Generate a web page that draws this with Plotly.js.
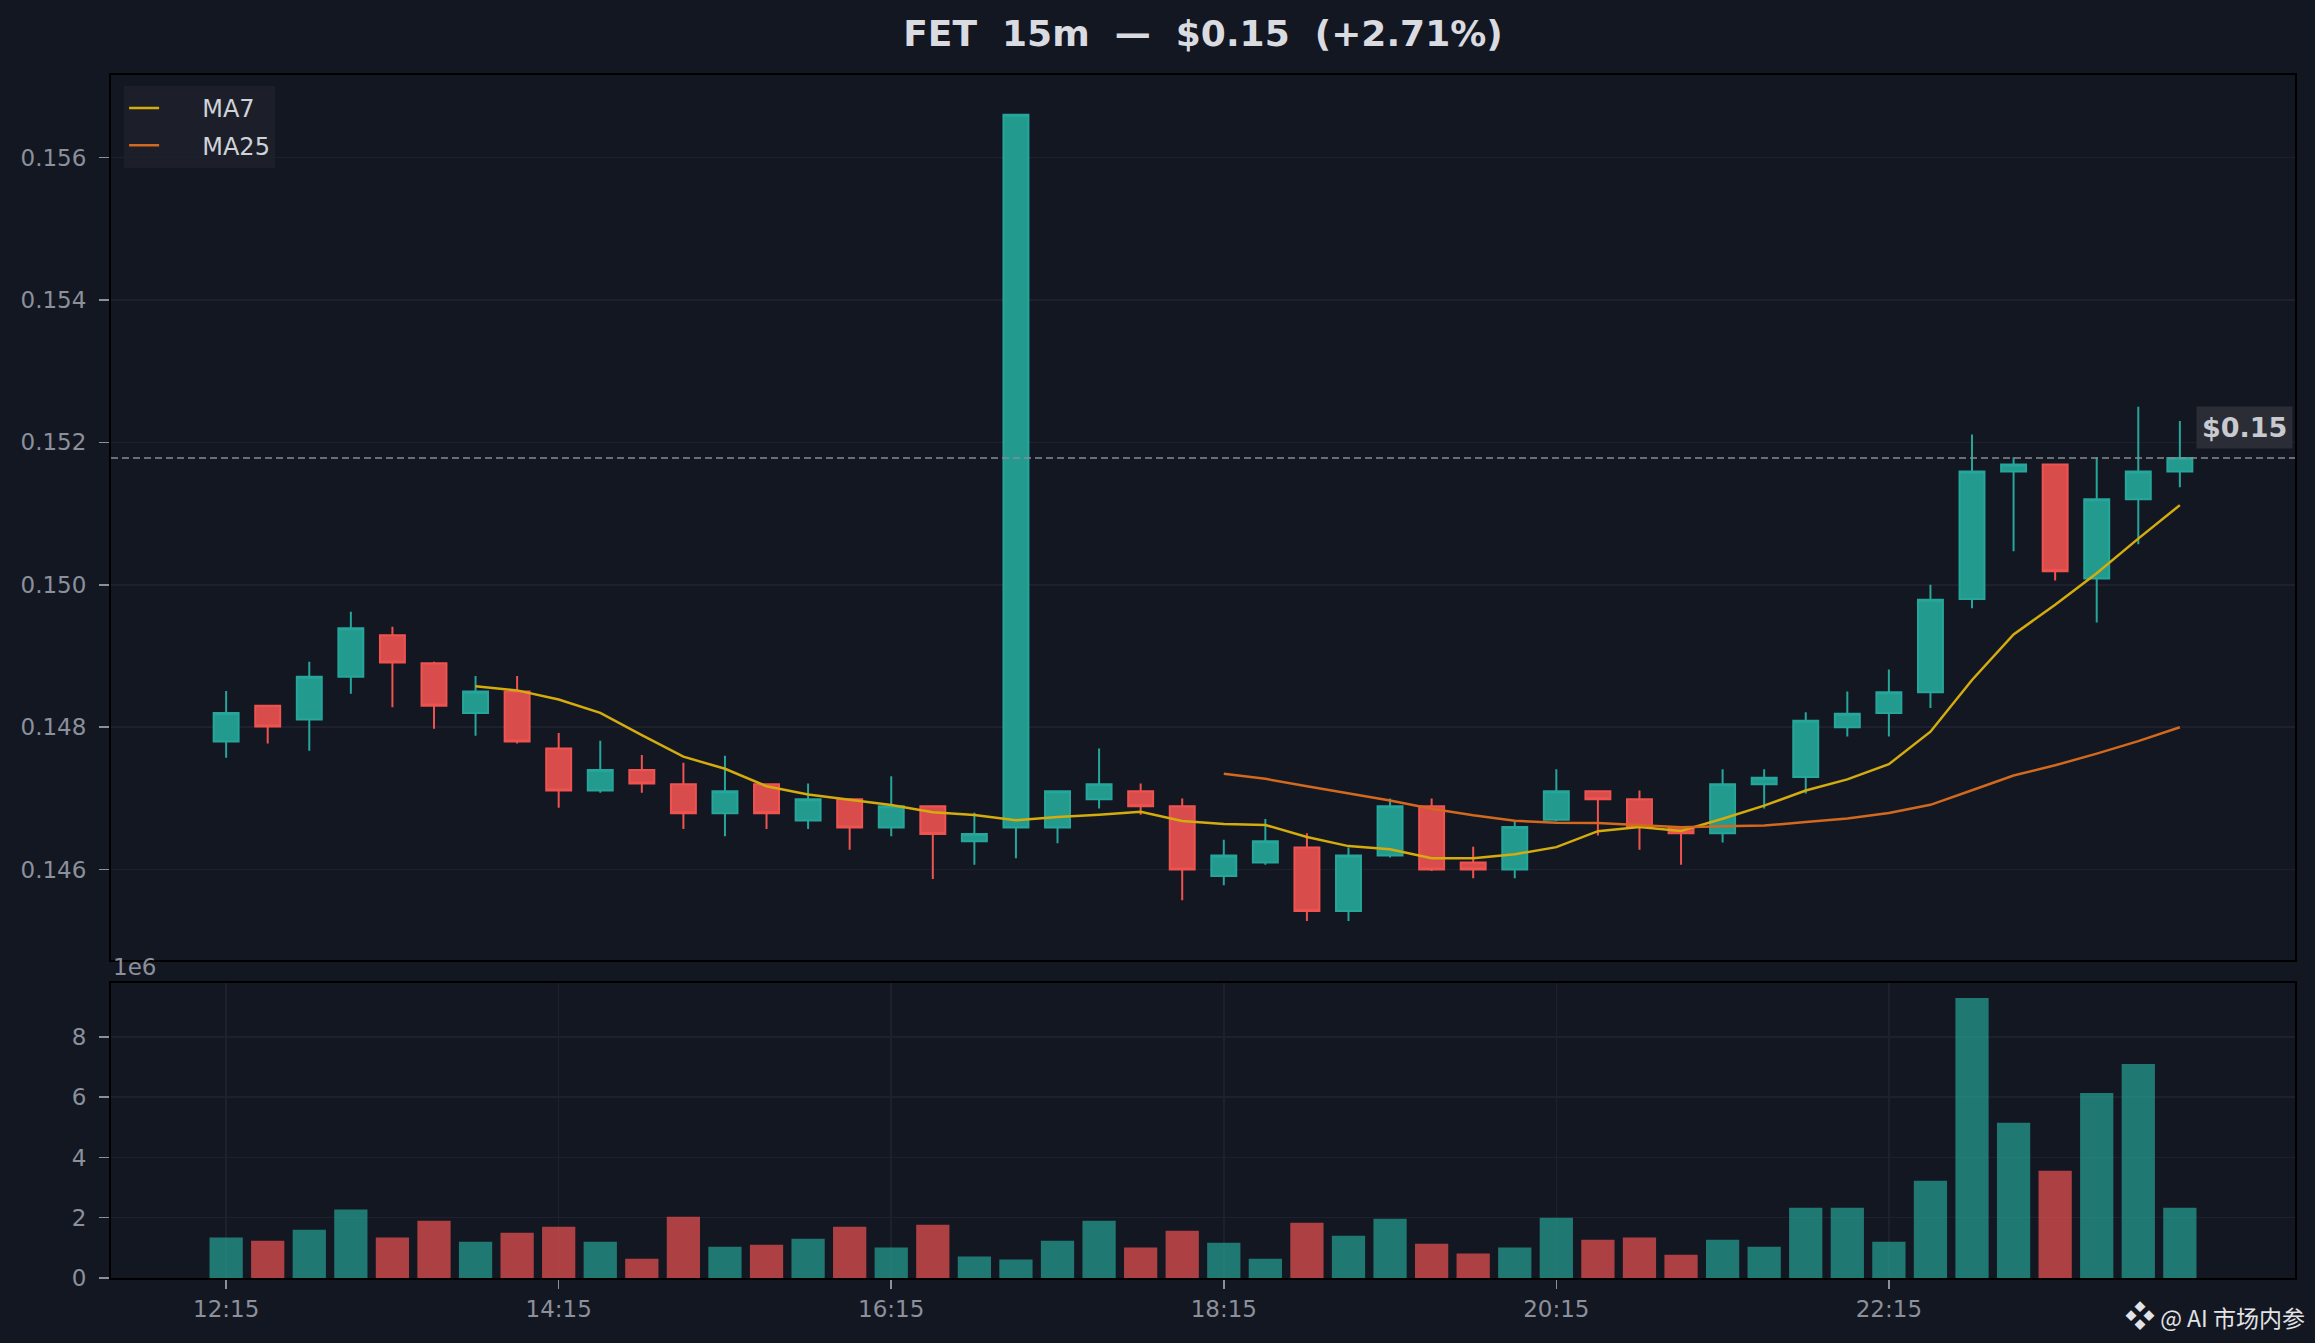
<!DOCTYPE html>
<html>
<head>
<meta charset="utf-8">
<script src="https://cdn.plot.ly/plotly-3.0.1.min.js"></script>
<style>
  html, body { margin: 0; padding: 0; background: #131722; }
  #chart { width: 2315px; height: 1343px; }
</style>
</head>
<body>
<div id="chart"></div>
<script>
// ---- Data ----
const times = ['12:15','12:30','12:45','13:00','13:15','13:30','13:45','14:00','14:15','14:30','14:45','15:00',
               '15:15','15:30','15:45','16:00','16:15','16:30','16:45','17:00','17:15','17:30','17:45','18:00',
               '18:15','18:30','18:45','19:00','19:15','19:30','19:45','20:00','20:15','20:30','20:45','21:00',
               '21:15','21:30','21:45','22:00','22:15','22:30','22:45','23:00','23:15','23:30','23:45','00:00'];

const opens = [0.14780,0.14830,0.14811,0.14871,0.14929,0.14890,0.14820,0.14850,0.14770,0.14711,0.14740,0.14720,
               0.14679,0.14720,0.14669,0.14699,0.14659,0.14689,0.14640,0.14659,0.14659,0.14699,0.14710,0.14689,
               0.14591,0.14610,0.14631,0.14542,0.14620,0.14689,0.14610,0.14600,0.14670,0.14710,0.14699,0.14660,
               0.14651,0.14720,0.14730,0.14800,0.14820,0.14849,0.14980,0.15159,0.15169,0.15009,0.15120,0.15159];
const highs = [0.14851,0.14831,0.14892,0.14962,0.14941,0.14892,0.14872,0.14872,0.14792,0.14781,0.14761,0.14750,
               0.14760,0.14721,0.14721,0.14699,0.14731,0.14690,0.14680,0.15660,0.14711,0.14770,0.14721,0.14700,
               0.14642,0.14671,0.14651,0.14631,0.14700,0.14700,0.14632,0.14669,0.14741,0.14711,0.14711,0.14660,
               0.14741,0.14741,0.14821,0.14850,0.14881,0.15000,0.15211,0.15179,0.15170,0.15179,0.15250,0.15230];
const lows  = [0.14757,0.14777,0.14767,0.14847,0.14828,0.14798,0.14788,0.14777,0.14687,0.14708,0.14708,0.14657,
               0.14647,0.14657,0.14657,0.14628,0.14647,0.14587,0.14607,0.14616,0.14637,0.14686,0.14677,0.14557,
               0.14578,0.14607,0.14528,0.14528,0.14617,0.14598,0.14588,0.14588,0.14668,0.14648,0.14628,0.14607,
               0.14638,0.14686,0.14707,0.14787,0.14787,0.14827,0.14967,0.15047,0.15006,0.14947,0.15057,0.15137];
const closes = [0.14820,0.14801,0.14871,0.14939,0.14891,0.14830,0.14850,0.14780,0.14711,0.14740,0.14721,0.14679,
                0.14710,0.14679,0.14699,0.14659,0.14689,0.14650,0.14650,0.15660,0.14710,0.14720,0.14689,0.14600,
                0.14620,0.14640,0.14542,0.14620,0.14689,0.14600,0.14600,0.14660,0.14710,0.14699,0.14660,0.14651,
                0.14720,0.14729,0.14809,0.14819,0.14849,0.14979,0.15159,0.15169,0.15019,0.15120,0.15159,0.15178];

// Volume (units)
const volumes = [1340000,1240000,1600000,2270000,1340000,1900000,1200000,1500000,1700000,1200000,640000,2030000,
                 1040000,1100000,1300000,1700000,1010000,1770000,710000,610000,1240000,1900000,1010000,1570000,
                 1170000,640000,1830000,1400000,1970000,1140000,810000,1010000,2000000,1270000,1340000,770000,
                 1270000,1040000,2330000,2330000,1200000,3230000,9290000,5150000,3560000,6140000,7100000,2330000];

// Moving averages as drawn in the picture
const ma7 = [null,null,null,null,null,null,
             0.148574,0.148517,0.148389,0.148201,0.147890,0.147587,0.147416,0.147171,0.147056,0.146981,
             0.146909,0.146807,0.146766,0.146694,0.146739,0.146769,0.146811,0.146684,0.146641,0.146627,
             0.146459,0.146330,0.146286,0.146159,0.146159,0.146216,0.146316,0.146540,0.146597,0.146543,
             0.146714,0.146899,0.147111,0.147267,0.147481,0.147937,0.148663,0.149304,0.149719,0.150163,
             0.150649,0.151119];
const ma25 = [null,null,null,null,null,null,null,null,null,null,null,null,
              null,null,null,null,null,null,null,null,null,null,null,null,
              0.147347,0.147275,0.147172,0.147071,0.146971,0.146855,0.146763,0.146687,0.146659,0.146654,
              0.146622,0.146594,0.146610,0.146618,0.146670,0.146718,0.146794,0.146910,0.147114,0.147321,
              0.147465,0.147629,0.147804,0.148000];

const lastPrice = 0.15178;
const titleText = 'FET\u00a0\u00a015m\u00a0\u00a0—\u00a0\u00a0$0.15\u00a0\u00a0(+2.71%)';
const priceTicks = [0.146, 0.148, 0.150, 0.152, 0.154, 0.156];
const volTickVals = [0, 2000000, 4000000, 6000000, 8000000];
const volTickText = ['0', '2', '4', '6', '8'];
const timeTickVals = ['12:15', '14:15', '16:15', '18:15', '20:15', '22:15'];

// ---- Build ----
const toDate = t => (t < '12:00' ? '2024-01-02 ' : '2024-01-01 ') + t;
const xs = times.map(toDate);

const UP = '#26a69a', DOWN = '#ef5350';
const volColors = closes.map((c, i) => c >= opens[i] ? 'rgba(38,166,154,0.68)' : 'rgba(239,83,80,0.70)');

const FONT = 'DejaVu Sans, sans-serif';
const TICKC = '#8c909b';
const GRID = '#1e212d';
const PAD = '\u00a0\u00a0\u00a0\u00a0\u00a0';

const traces = [
  {
    type: 'candlestick', x: xs, open: opens, high: highs, low: lows, close: closes,
    xaxis: 'x', yaxis: 'y', showlegend: false, hoverinfo: 'skip', whiskerwidth: 0,
    increasing: { line: { color: UP, width: 2 }, fillcolor: '#229a8e' },
    decreasing: { line: { color: DOWN, width: 2 }, fillcolor: '#d94c4c' }
  },
  {
    type: 'scatter', mode: 'lines', x: xs, y: ma7, name: PAD + 'MA7', legendgroup: 'a',
    xaxis: 'x', yaxis: 'y', line: { color: '#d4ac0d', width: 2.5 }, hoverinfo: 'skip'
  },
  {
    type: 'scatter', mode: 'lines', x: xs, y: ma25, name: PAD + 'MA25', legendgroup: 'b',
    xaxis: 'x', yaxis: 'y', line: { color: '#d2691e', width: 2.5 }, hoverinfo: 'skip'
  },
  {
    type: 'bar', x: xs, y: volumes, xaxis: 'x2', yaxis: 'y2', showlegend: false,
    marker: { color: volColors, line: { width: 0 } }, width: 720000, hoverinfo: 'skip'
  }
];

const xRange = ['2024-01-01 11:33:27', '2024-01-02 00:41:33'];

const layout = {
  width: 2315, height: 1343,
  paper_bgcolor: '#131722', plot_bgcolor: '#131722',
  margin: { l: 111, r: 20, t: 75, b: 65 },
  font: { family: FONT, color: TICKC, size: 23 },
  hovermode: false,
  boxgap: 0.4, boxgroupgap: 0,
  title: {
    text: titleText, x: 0.5, xref: 'paper', y: 1 - 33 / 1343, yref: 'container',
    xanchor: 'center', yanchor: 'middle',
    font: { family: FONT, size: 36, color: '#d9dbe1', weight: 'bold' }
  },
  xaxis: {
    type: 'date', range: xRange, anchor: 'y', matches: 'x2',
    showticklabels: false, ticks: '', showgrid: false, zeroline: false,
    showline: true, linecolor: '#000000', linewidth: 2, mirror: true,
    rangeslider: { visible: false }
  },
  yaxis: {
    domain: [0.2643, 1], range: [0.14473, 0.15716], anchor: 'x',
    tickvals: priceTicks, tickformat: '.3f',
    ticks: 'outside', ticklen: 10, tickwidth: 1.5, tickcolor: TICKC, ticklabelstandoff: 8,
    tickfont: { family: FONT, size: 23, color: TICKC },
    showgrid: true, gridcolor: GRID, gridwidth: 1.5, zeroline: false,
    showline: true, linecolor: '#000000', linewidth: 2, mirror: true
  },
  xaxis2: {
    type: 'date', range: xRange, anchor: 'y2',
    tickvals: timeTickVals.map(toDate), ticktext: timeTickVals,
    ticks: 'outside', ticklen: 9, tickwidth: 1.5, tickcolor: TICKC,
    tickfont: { family: FONT, size: 23, color: TICKC },
    showgrid: true, gridcolor: GRID, gridwidth: 1.5, zeroline: false,
    showline: true, linecolor: '#000000', linewidth: 2, mirror: true
  },
  yaxis2: {
    domain: [0, 0.2452], range: [0, 9790000], anchor: 'x2',
    tickvals: volTickVals, ticktext: volTickText,
    ticks: 'outside', ticklen: 10, tickwidth: 1.5, tickcolor: TICKC, ticklabelstandoff: 8,
    tickfont: { family: FONT, size: 23, color: TICKC },
    showgrid: true, gridcolor: GRID, gridwidth: 1.5, zeroline: false,
    showline: true, linecolor: '#000000', linewidth: 2, mirror: true
  },
  legend: {
    x: 0.006, y: 0.991, xanchor: 'left', yanchor: 'top',
    bgcolor: 'rgba(30,33,43,0.85)', borderwidth: 0,
    font: { family: FONT, size: 24, color: '#d0d2d8' },
    tracegroupgap: 3
  },
  shapes: [
    {
      type: 'line', xref: 'paper', x0: 0, x1: 1, yref: 'y', y0: lastPrice, y1: lastPrice,
      line: { color: '#888c94', width: 1.5, dash: '7px,4px' }
    }
  ],
  annotations: [
    {
      text: '<b>$0.15</b>', xref: 'paper', x: 0.999, xanchor: 'right',
      yref: 'y', y: 0.152207, yanchor: 'middle', showarrow: false,
      bgcolor: '#2a2d35', borderpad: 5,
      font: { family: FONT, size: 27, color: '#c8cad0' }
    },
    {
      text: '1e6', xref: 'paper', x: 0, xanchor: 'left',
      yref: 'paper', y: (1278 - 967) / 1203, yanchor: 'middle', showarrow: false,
      font: { family: FONT, size: 23, color: TICKC }
    },
    {
      text: '<span style="font-size:30px">❖</span> @ AI 市场内参', xref: 'paper', x: 1.0055, xanchor: 'right',
      yref: 'paper', y: (1278 - 1314) / 1203, yanchor: 'middle', showarrow: false,
      font: { family: 'Noto Sans CJK SC, DejaVu Sans, sans-serif', size: 23, color: '#e2e3e6' }
    }
  ]
};

Plotly.newPlot('chart', traces, layout, { staticPlot: true, displayModeBar: false });
</script>
</body>
</html>
